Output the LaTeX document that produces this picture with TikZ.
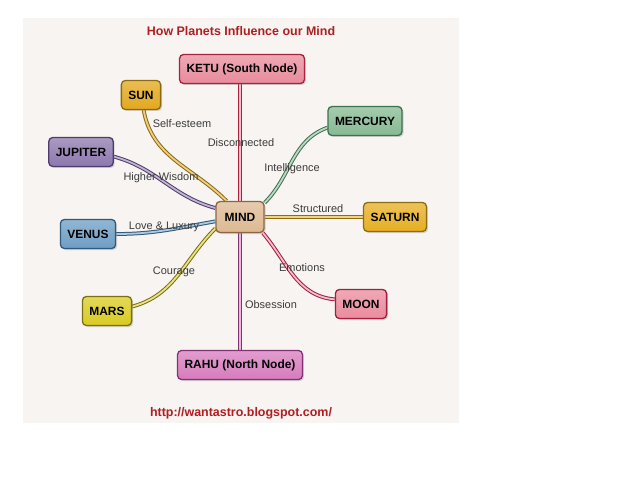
\documentclass[tikz,border=0pt]{standalone}
\usepackage{fontspec}
\setmainfont{Liberation Sans}
\usetikzlibrary{shadows,backgrounds}
\definecolor{panel}{HTML}{F7F4F1}
\definecolor{titlered}{HTML}{B01E22}
\definecolor{labelgray}{HTML}{3C3C3C}
\definecolor{ketuF}{HTML}{E88C9C}    \definecolor{ketuD}{HTML}{A8223F}
\definecolor{sunF}{HTML}{E2A81E}     \definecolor{sunD}{HTML}{8C6A12}
\definecolor{mercuryF}{HTML}{86BA93} \definecolor{mercuryD}{HTML}{3F7050}
\definecolor{jupiterF}{HTML}{8E78AE} \definecolor{jupiterD}{HTML}{4F3C6C}
\definecolor{mindF}{HTML}{DDB992}    \definecolor{mindD}{HTML}{8C6644}
\definecolor{saturnF}{HTML}{E6AE22}  \definecolor{saturnD}{HTML}{8E6C12}
\definecolor{venusF}{HTML}{6E9EC4}   \definecolor{venusD}{HTML}{2F5A7C}
\definecolor{moonF}{HTML}{EA8C9E}    \definecolor{moonD}{HTML}{A41E40}
\definecolor{marsF}{HTML}{D9CB22}    \definecolor{marsD}{HTML}{7A7012}
\definecolor{rahuF}{HTML}{D77CBD}    \definecolor{rahuD}{HTML}{833174}
\begin{document}
\begin{tikzpicture}[x=1bp, y=1bp,
  planet/.style={draw=#1D, top color=#1F!75!white, bottom color=#1F, line width=1.3bp,
    rounded corners=4bp, minimum height=29bp, inner xsep=7bp,
    font=\bfseries\fontsize{12}{14}\selectfont,
    drop shadow={shadow xshift=1.5bp, shadow yshift=-1.5bp, opacity=0.3}},
  link/.style={draw=#1D, double=#1F!55!white, line width=1bp, double distance=1.8bp},
  lbl/.style={font=\fontsize{11}{13}\selectfont, text=labelgray},
  head/.style={font=\bfseries\fontsize{12.5}{15}\selectfont, text=titlered}]
  \useasboundingbox (0,0) rectangle (638,-493);
  % Title and source
  \node[head] (title) at (241,-31) {How Planets Influence our Mind};
  \node[head] (url) at (241,-413) {http://wantastro.blogspot.com/};
  % Planets
  \node[planet=ketu] (ketu) at (242,-69) {KETU (South Node)};
  \node[planet=sun] (sun) at (141,-95) {SUN};
  \node[planet=mercury] (mercury) at (365,-121) {MERCURY};
  \node[planet=jupiter] (jupiter) at (81,-152) {JUPITER};
  \node[planet=mind, minimum width=48bp, minimum height=31bp] (mind) at (240,-217) {MIND};
  \node[planet=saturn] (saturn) at (395,-217) {SATURN};
  \node[planet=venus] (venus) at (88,-234) {VENUS};
  \node[planet=moon] (moon) at (361,-304) {MOON};
  \node[planet=mars] (mars) at (107,-311) {MARS};
  \node[planet=rahu] (rahu) at (240,-365) {RAHU (North Node)};
  % Influences
  \node[lbl] (selfesteem) at (182,-124) {Self-esteem};
  \node[lbl] (disconnected) at (241,-143) {Disconnected};
  \node[lbl] (intelligence) at (292,-169) {Intelligence};
  \node[lbl] (wisdom) at (161,-178) {Higher Wisdom};
  \node[lbl] (structured) at (318,-209) {Structured};
  \node[lbl] (luxury) at (164,-227) {Love \& Luxury};
  \node[lbl] (courage) at (174,-272) {Courage};
  \node[lbl] (emotions) at (302,-268) {Emotions};
  \node[lbl] (obsession) at (271,-305) {Obsession};
  % Panel and links behind the boxes
  \begin{scope}[on background layer]
    \fill[white] (0,0) rectangle (638,-493);
    \fill[panel] (23,-18) rectangle (459,-423);
    \draw[link=ketu] (ketu.south -| mind.north) -- (mind.north);
    \draw[link=rahu] (rahu.north) -- (rahu.north |- mind.south);
    \draw[link=saturn] (mind.east) -- (saturn.west);
    \draw[link=sun] (sun.-80) to[out=-80, in=135] (mind.130);
    \draw[link=jupiter] (jupiter.-8) to[out=-15, in=165] (mind.160);
    \draw[link=venus] (venus.east) to[out=0, in=190] (mind.190);
    \draw[link=mars] (mars.10) to[out=15, in=-135] (mind.205);
    \draw[link=mercury] (mind.30) to[out=45, in=200] (mercury.190);
    \draw[link=moon] (mind.-35) to[out=-50, in=175] (moon.170);
  \end{scope}
\end{tikzpicture}
\end{document}
